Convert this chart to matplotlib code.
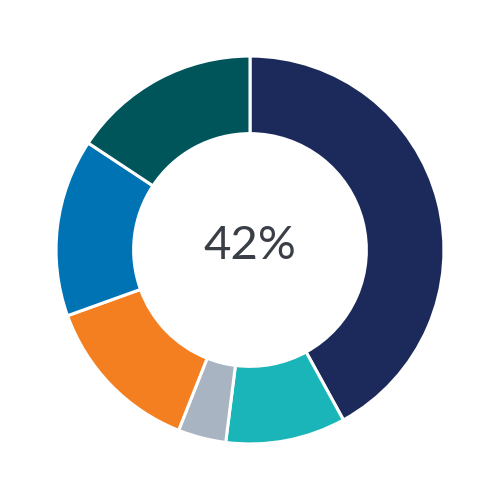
import matplotlib.pyplot as plt

# segment shares, clockwise from 12 o'clock
labels = ["Navy", "Teal", "Gray", "Orange", "Blue", "Green"]
values = [42, 10, 4, 13.5, 14.8, 15.7]
colors = ["#1b2a5a", "#1ab5b8", "#a9b4c2", "#f47f20", "#0073b4", "#00555a"]
center_text = "42%"

fig = plt.figure(figsize=(5, 5), dpi=100)
ax = fig.add_axes([0, 0, 1, 1])

ax.pie(values, colors=colors, startangle=90, counterclock=False, radius=1,
       wedgeprops=dict(width=0.4, edgecolor="white", linewidth=2.2))

ax.text(0, 0.02, center_text, ha="center", va="center", fontsize=34,
        color="#3a3f47", family="Lato")

ax.set_xlim(-1.289, 1.289)
ax.set_ylim(-1.289, 1.289)
ax.set_aspect("equal")
ax.axis("off")

fig.savefig("out.png", dpi=100, facecolor="white")
